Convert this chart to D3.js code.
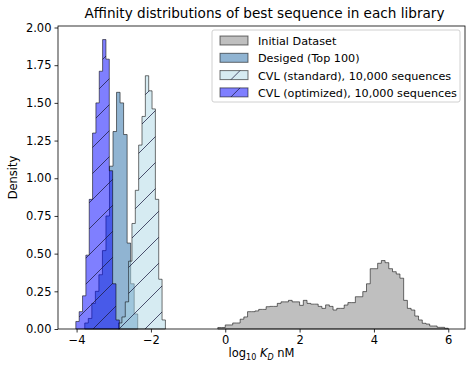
<!DOCTYPE html>
<html>
<head>
<meta charset="utf-8">
<script src="https://cdn.jsdelivr.net/npm/d3@7"></script>
<style>
  body { margin: 0; background: #fff; }
  text { font-family: "DejaVu Sans", sans-serif; fill: #000; }
</style>
</head>
<body>
<svg id="chart" width="474" height="376"></svg>
<script>
// histogram densities (start of first bin, bin width, density per bin)
var initialStart = -0.2, initialBin = 0.1,
    initialDensity = [0.01, 0.01, 0.027, 0.027, 0.04, 0.04, 0.065, 0.08, 0.115, 0.115,
                      0.12, 0.13, 0.13, 0.148, 0.15, 0.15, 0.17, 0.18, 0.18, 0.19,
                      0.18, 0.18, 0.157, 0.19, 0.17, 0.165, 0.165, 0.15, 0.137, 0.16,
                      0.15, 0.126, 0.137, 0.137, 0.159, 0.175, 0.175, 0.214, 0.214, 0.248,
                      0.30, 0.40, 0.40, 0.436, 0.454, 0.44, 0.40, 0.38, 0.365, 0.337,
                      0.19, 0.137, 0.126, 0.086, 0.06, 0.038, 0.033, 0.02, 0.02, 0.011,
                      0.011, 0.005];

var designedStart = -3.78, designedBin = 0.095,
    designedDensity = [0.04, 0.07, 0.17, 0.25, 0.36, 0.52, 0.75, 1.08, 1.31, 1.57,
                       1.50, 1.29, 0.57, 0.30, 0.10];

var standardStart = -2.87, standardBin = 0.09,
    standardDensity = [0.04, 0.08, 0.18, 0.45, 0.70, 0.92, 1.22, 1.41, 1.68, 1.58,
                       1.46, 0.86, 0.33, 0.06];

var optimizedStart = -4.02, optimizedBin = 0.09,
    optimizedDensity = [0.05, 0.115, 0.22, 0.49, 0.86, 1.30, 1.50, 1.71, 1.92, 1.79,
                        1.05, 0.30, 0.06];

var seriesNames = ["Initial Dataset", "Desiged (Top 100)",
                   "CVL (standard), 10,000 sequences", "CVL (optimized), 10,000 sequences"];
var xTicks = [-4, -2, 0, 2, 4, 6],
    yTicks = [0, 0.25, 0.5, 0.75, 1.0, 1.25, 1.5, 1.75, 2.0];

var margin = {top: 26, right: 9, bottom: 47, left: 58},
    width = 474 - margin.left - margin.right,
    height = 376 - margin.top - margin.bottom;

var svg = d3.select("#chart");

var defs = svg.append("defs");
function addHatch(id, size){
    var p = defs.append("pattern")
        .attr('id', id)
        .attr('patternUnits', "userSpaceOnUse")
        .attr('width', size)
        .attr('height', size);
    p.append("path")
        .attr('d', "M0," + size + "L" + size + ",0M-2,2L2,-2M" + (size-2) + "," + (size+2) + "L" + (size+2) + "," + (size-2))
        .style('stroke', "#1a1a40")
        .style('stroke-opacity', 0.75)
        .style('stroke-width', 1);
}
addHatch("hatchBig", 26);
addHatch("hatchSmall", 20);

var g = svg.append("g")
    .attr('transform', "translate(" + margin.left + "," + margin.top + ")");

var x = d3.scaleLinear().domain([-4.5, 6.45]).range([0, width]),
    y = d3.scaleLinear().domain([0, 2.01]).range([height, 0]);

var series = [
    {start: initialStart, bin: initialBin, dens: initialDensity, fill: "#808080", op: 0.5, hatch: null},
    {start: designedStart, bin: designedBin, dens: designedDensity, fill: "steelblue", op: 0.6, hatch: null},
    {start: standardStart, bin: standardBin, dens: standardDensity, fill: "lightblue", op: 0.5, hatch: "hatchBig"},
    {start: optimizedStart, bin: optimizedBin, dens: optimizedDensity, fill: "blue", op: 0.5, hatch: "hatchBig"}
];

function stepPoints(s){
    var pts = [[s.start, 0]];
    s.dens.forEach(function(d, i){
        pts.push([s.start + i*s.bin, d]);
        pts.push([s.start + (i+1)*s.bin, d]);
    });
    pts.push([s.start + s.dens.length*s.bin, 0]);
    return pts;
}

var line = d3.line()
    .x(function(d){ return x(d[0]); })
    .y(function(d){ return y(d[1]); });

series.forEach(function(s){
    var pts = stepPoints(s);
    g.append("path")
        .attr('d', line(pts) + "Z")
        .style('fill', s.fill)
        .style('fill-opacity', s.op)
        .style('stroke', "none");
    if(s.hatch){
        g.append("path")
            .attr('d', line(pts) + "Z")
            .style('fill', "url(#" + s.hatch + ")");
    }
    g.append("path")
        .attr('d', line(pts) + "Z")
        .style('fill', "none")
        .style('stroke', "#000")
        .style('stroke-opacity', 0.55)
        .style('stroke-width', 1);
});

// axes
var xAxis = g.append("g")
    .attr('transform', "translate(0," + height + ")")
    .call(d3.axisBottom(x).tickValues(xTicks).tickSize(3.5).tickPadding(3)
        .tickFormat(function(d){ return d < 0 ? "\u2212" + Math.abs(d) : d; }));
var yAxis = g.append("g")
    .call(d3.axisLeft(y).tickValues(yTicks).tickSize(3.5).tickPadding(3)
        .tickFormat(d3.format(".2f")));

[xAxis, yAxis].forEach(function(a){
    a.select("path.domain").remove();
    a.selectAll("text").style('font-size', "11.5px").style('fill', "#000");
    a.selectAll("line").style('stroke', "#000").style('stroke-width', 0.8);
});

g.append("rect")
    .attr('width', width)
    .attr('height', height)
    .style('fill', "none")
    .style('stroke', "#000")
    .style('stroke-width', 0.8);

// title and labels
svg.append("text")
    .attr('x', margin.left + width/2 + 3)
    .attr('y', 18)
    .attr('text-anchor', "middle")
    .style('font-size', "13.6px")
    .text("Affinity distributions of best sequence in each library");

var xl = svg.append("text")
    .attr('x', margin.left + width/2)
    .attr('y', 357)
    .attr('text-anchor', "middle")
    .style('font-size', "11.5px");
xl.append("tspan").text("log");
xl.append("tspan").attr('dy', 3).style('font-size', "8px").text("10");
xl.append("tspan").attr('dy', -3).text(" ");
xl.append("tspan").style('font-style', "italic").text("K");
xl.append("tspan").attr('dy', 3).style('font-size', "8px").style('font-style', "italic").text("D");
xl.append("tspan").attr('dy', -3).text(" nM");

svg.append("text")
    .attr('transform', "translate(17," + (margin.top + height/2) + ") rotate(-90)")
    .attr('text-anchor', "middle")
    .style('font-size', "11.5px")
    .text("Density");

// legend
var legend = svg.append("g").attr('transform', "translate(212,30)");
legend.append("rect")
    .attr('width', 248)
    .attr('height', 72)
    .attr('rx', 2)
    .style('fill', "#fff")
    .style('fill-opacity', 0.8)
    .style('stroke', "#d0d0d0");

series.forEach(function(s, i){
    var row = legend.append("g").attr('transform', "translate(8," + (6 + i*17.3) + ")");
    row.append("rect").attr('width', 28).attr('height', 9)
        .style('fill', "#fff");
    row.append("rect").attr('width', 28).attr('height', 9)
        .style('fill', s.fill).style('fill-opacity', s.op);
    if(s.hatch){
        row.append("rect").attr('width', 28).attr('height', 9)
            .style('fill', "url(#hatchSmall)");
    }
    row.append("rect").attr('width', 28).attr('height', 9)
        .style('fill', "none").style('stroke', "#000").style('stroke-opacity', 0.55);
    row.append("text")
        .attr('x', 38)
        .attr('y', 9)
        .style('font-size', "11.2px")
        .text(seriesNames[i]);
});
</script>
</body>
</html>
